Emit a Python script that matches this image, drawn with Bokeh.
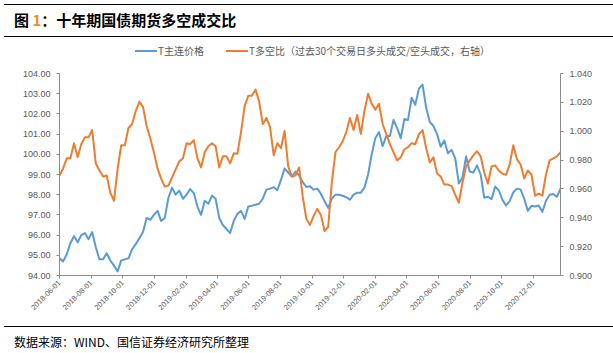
import math
import pandas as pd
from bokeh.plotting import figure
from bokeh.models import (Range1d, LinearAxis, FixedTicker, DatetimeTickFormatter,
                          PrintfTickFormatter, Div, ColumnDataSource)
from bokeh.layouts import column
from bokeh.embed import file_html
from bokeh.resources import INLINE

start_date = "2018-06-01"

price = [94.85, 94.7, 95.05, 95.6, 95.95, 95.65, 96.0, 96.1, 95.8, 96.15,
         95.4, 94.8, 94.8, 95.1, 94.74, 94.5, 94.2, 94.75, 94.8, 94.85,
         95.3, 95.55, 95.85, 96.15, 96.85, 96.75, 97.0, 97.2, 96.7, 96.85,
         97.85, 98.35, 98.0, 98.2, 97.8, 98.0, 98.28, 98.08, 97.4, 97.0,
         97.7, 97.55, 97.95, 97.8, 96.85, 96.5, 96.3, 96.1, 96.7, 97.05,
         97.2, 96.8, 97.42, 97.45, 97.5, 97.55, 97.8, 98.25, 98.3, 98.37,
         98.22, 98.73, 99.3, 99.1, 98.9, 99.15, 98.95, 98.62, 98.38, 98.42,
         98.25, 98.3, 98.05, 97.68, 97.35, 97.8, 98.0, 98.0, 97.95, 97.88,
         97.75, 98.0, 98.1, 98.1, 98.35, 99.0, 100.0, 100.8, 101.1, 100.4,
         100.9, 100.9, 101.7, 101.3, 100.8, 101.75, 101.7, 102.8, 102.45, 103.25,
         103.45, 102.3, 101.6, 101.4, 101.0, 100.38, 100.68, 100.05, 100.22, 99.8,
         98.55, 98.85, 99.9, 99.15, 99.1, 99.45, 99.0, 97.85, 97.9, 97.78,
         98.4, 98.22, 97.75, 97.47, 97.68, 98.12, 98.3, 98.25, 97.8, 97.2,
         97.45, 97.42, 97.47, 97.15, 97.7, 98.0, 98.03, 97.9, 98.3]

ratio = [0.9693, 0.9742, 0.9812, 0.9812, 0.9917, 0.9819, 0.991, 0.9959, 0.9959, 1.0008,
         0.9776, 0.9728, 0.9686, 0.9693, 0.9574, 0.9518, 0.9735, 0.9903, 0.9903, 1.0022,
         1.005, 1.0141, 1.0204, 1.0169, 1.0036, 0.9952, 0.9854, 0.9742, 0.9672, 0.9616,
         0.9623, 0.9679, 0.9735, 0.9791, 0.9812, 0.9917, 0.991, 0.9938, 0.9812, 0.9749,
         0.9854, 0.9896, 0.9917, 0.9896, 0.9749, 0.9826, 0.9826, 0.9777, 0.9847, 0.9844,
         0.9994, 1.0176, 1.0246, 1.0246, 1.0288, 1.0204, 1.005, 1.0092, 1.003, 0.9833,
         0.9917, 0.9882, 1.0001, 0.9756, 0.9686, 0.9693, 0.9749, 0.9546, 0.9392, 0.935,
         0.9413, 0.9462, 0.942, 0.9308, 0.9336, 0.9644, 0.9854, 0.9889, 0.9931, 0.9994,
         1.0092, 1.0008, 1.0113, 0.998, 1.0141, 1.026, 1.019, 1.0148, 1.019, 1.005,
         0.998, 0.991, 0.9854, 0.9798, 0.9819, 0.9875, 0.9889, 0.9917, 0.991, 0.998,
         1.0008, 0.9882, 0.9784, 0.9819, 0.9707, 0.9686, 0.963, 0.963, 0.9619, 0.956,
         0.9504, 0.9644, 0.9756, 0.9798, 0.9833, 0.9861, 0.9826, 0.9714, 0.9637, 0.9756,
         0.9763, 0.9728, 0.9706, 0.9697, 0.977, 0.9903, 0.9805, 0.977, 0.9672, 0.9728,
         0.97, 0.9553, 0.9567, 0.9553, 0.97, 0.9798, 0.9812, 0.9826, 0.9854]

x_tick_labels = ["2018-06-01", "2018-08-01", "2018-10-01", "2018-12-01",
                 "2019-02-01", "2019-04-01", "2019-06-01", "2019-08-01",
                 "2019-10-01", "2019-12-01", "2020-02-01", "2020-04-01",
                 "2020-06-01", "2020-08-01", "2020-10-01", "2020-12-01"]
left_ticks = [94, 95, 96, 97, 98, 99, 100, 101, 102, 103, 104]
right_ticks = [0.90, 0.92, 0.94, 0.96, 0.98, 1.00, 1.02, 1.04]

series_names = ["T主连价格", "T多空比（过去30个交易日多头成交/空头成交，右轴）"]
title_prefix = "图 "
title_num = "1"
title_rest = "：十年期国债期货多空成交比"
source_text = "数据来源：WIND、国信证券经济研究所整理"

# ---------------- build ----------------
dates = pd.date_range(start_date, periods=len(price), freq="7D")
src = ColumnDataSource(dict(date=dates, price=price, ratio=ratio))

BLUE = "#5B9BD5"
ORANGE = "#ED7D31"
GREY = "#595959"
AXIS = "#8C8C8C"

x_start = pd.Timestamp(start_date)
x_end = pd.Timestamp("2021-01-22")

HEAD_H = 60
FIG_H = 263
p = figure(width=613, height=FIG_H, x_axis_type="datetime",
           x_range=Range1d(x_start, x_end), y_range=Range1d(94, 104),
           output_backend="svg", toolbar_location=None,
           min_border_left=59, min_border_right=53, min_border_top=13,
           min_border_bottom=48)
p.outline_line_color = None
p.xgrid.visible = False
p.ygrid.visible = False
p.background_fill_color = "white"
p.border_fill_color = "white"

p.extra_y_ranges = {"r": Range1d(0.90, 1.04)}

r1 = p.line("date", "price", source=src, color=BLUE, line_width=2, line_join="round")
r2 = p.line("date", "ratio", source=src, color=ORANGE, line_width=2, line_join="round",
            y_range_name="r")

# left axis
ya = p.yaxis[0]
ya.ticker = FixedTicker(ticks=left_ticks)
ya.formatter = PrintfTickFormatter(format="%.2f")

# right axis
ra = LinearAxis(y_range_name="r", ticker=FixedTicker(ticks=right_ticks),
                formatter=PrintfTickFormatter(format="%.3f"))
p.add_layout(ra, "right")

# x axis
xa = p.xaxis[0]
xa.ticker = FixedTicker(ticks=[pd.Timestamp(d).value / 1e6 for d in x_tick_labels])
fmt = "%Y-%m-%d"
xa.formatter = DatetimeTickFormatter(microseconds=fmt, milliseconds=fmt, seconds=fmt,
                                     minsec=fmt, minutes=fmt, hourmin=fmt, hours=fmt,
                                     days=fmt, months=fmt, years=fmt)
xa.major_label_orientation = math.pi / 4

for ax in (ya, ra, xa):
    ax.axis_line_color = AXIS
    ax.axis_line_width = 1
    ax.major_tick_line_color = AXIS
    ax.major_tick_in = 0
    ax.major_tick_out = 3
    ax.minor_tick_line_color = None
    ax.major_label_text_color = GREY
    ax.major_label_text_font = "Liberation Sans"
    ax.major_label_text_font_size = "9px"
    ax.major_label_standoff = 6
xa.major_label_text_font_size = "7.5px"
xa.major_label_standoff = 3

FONT = "'Noto Sans CJK SC'"
head_html = (
    f'<div style="position:relative;width:613px;height:{HEAD_H}px;font-family:{FONT};">'
    '<div style="position:absolute;left:4px;width:609px;top:4px;border-top:1.5px solid #000;"></div>'
    '<div style="position:absolute;left:14px;top:11px;'
    'font-weight:bold;font-size:15px;line-height:18px;color:#000;white-space:nowrap;">'
    f'{title_prefix}<span style="color:#E8902A;">{title_num}</span>{title_rest}</div>'
    '<div style="position:absolute;left:4px;width:609px;top:36px;border-top:1.5px solid #000;"></div>'
    # legend
    f'<div style="position:absolute;left:135px;top:50px;width:22px;height:2px;background:{BLUE};"></div>'
    f'<div style="position:absolute;left:158px;top:44px;font-size:10px;line-height:14px;'
    f'color:{GREY};white-space:nowrap;">{series_names[0]}</div>'
    f'<div style="position:absolute;left:226px;top:50px;width:22px;height:2px;background:{ORANGE};"></div>'
    f'<div style="position:absolute;left:249px;top:44px;font-size:10px;line-height:14px;'
    f'color:{GREY};white-space:nowrap;">{series_names[1]}</div>'
    '</div>'
)
head_div = Div(text=head_html, width=613, height=HEAD_H, margin=0)

SRC_H = 353 - HEAD_H - FIG_H
source_html = (
    f'<div style="position:relative;width:613px;height:{SRC_H}px;font-family:{FONT};">'
    '<div style="position:absolute;left:4px;width:609px;top:3px;border-top:1.5px solid #000;"></div>'
    '<div style="position:absolute;left:14px;top:11px;'
    'font-size:12px;line-height:15px;color:#000;white-space:nowrap;">'
    f'{source_text}</div>'
    '</div>'
)
source_div = Div(text=source_html, width=613, height=SRC_H, margin=0)

layout = column(head_div, p, source_div, spacing=0, margin=0)

open("out.html", "w").write(file_html(layout, INLINE))
